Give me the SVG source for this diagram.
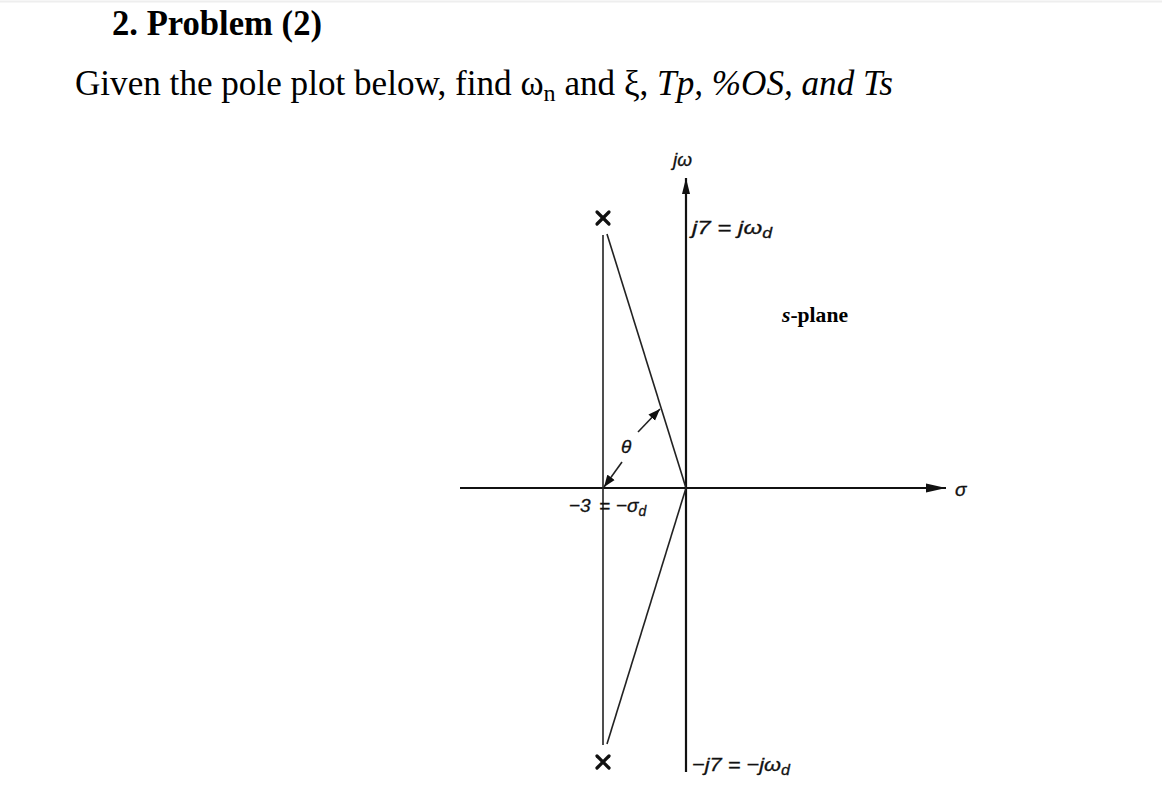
<svg xmlns="http://www.w3.org/2000/svg" width="1162" height="808" viewBox="0 0 1162 808">
<defs>
<marker id="ah" viewBox="0 0 12 10" refX="12" refY="5" markerWidth="12" markerHeight="10" markerUnits="userSpaceOnUse" orient="auto">
<path d="M0,0.5 L12,5 L0,9.5 Z" fill="#111"/>
</marker>
<marker id="axh" viewBox="0 0 20 10" refX="20" refY="5" markerWidth="20" markerHeight="10" markerUnits="userSpaceOnUse" orient="auto">
<path d="M0,0.5 L20,5 L0,9.5 Z" fill="#111"/>
</marker>
<marker id="ayh" viewBox="0 0 16 10" refX="16" refY="5" markerWidth="16" markerHeight="10" markerUnits="userSpaceOnUse" orient="auto">
<path d="M0,1 L16,5 L0,9 Z" fill="#111"/>
</marker>
</defs>
<style>
.serif{font-family:"Liberation Serif","Times New Roman",serif;fill:#000}
.lab{font-family:"Liberation Sans",Arial,sans-serif;font-style:italic;fill:#111;font-size:19px;stroke:#111;stroke-width:0.3}
.ln{stroke:#222;stroke-width:1.6;fill:none}
.ax{stroke:#111;stroke-width:2.2;fill:none}
.x{stroke:#111;stroke-width:3.2;stroke-linecap:round}
</style>
<rect width="1162" height="808" fill="#fff"/>
<line x1="0" y1="1.5" x2="1162" y2="1.5" stroke="#eee" stroke-width="2"/>
<g id="title">
<text class="serif" x="112" y="35" font-size="35" font-weight="bold" textLength="210" lengthAdjust="spacingAndGlyphs">2. Problem (2)</text>
<text class="serif" x="75" y="95" font-size="35" textLength="818" lengthAdjust="spacingAndGlyphs">Given the pole plot below, find ω<tspan font-size="24" dy="6">n</tspan><tspan dy="-6"> and ξ, </tspan><tspan font-style="italic">Tp, %OS, and Ts</tspan></text>
</g>
<g id="connectors">
<line id="real-axis" class="ax" x1="460" y1="488" x2="946" y2="488" marker-end="url(#axh)"/>
<line id="imag-axis" class="ax" x1="686" y1="772" x2="686" y2="178" marker-end="url(#ayh)"/>
<line class="ln" x1="603" y1="235" x2="603" y2="745"/>
<line class="ln" x1="607" y1="234" x2="686" y2="488"/>
<line class="ln" x1="686" y1="488" x2="607" y2="744"/>
<line class="ln" x1="622" y1="462" x2="604" y2="487" marker-end="url(#ah)"/>
<line class="ln" x1="638" y1="432" x2="660" y2="409" marker-end="url(#ah)"/>
</g>
<g id="pole-top">
<line class="x" x1="597" y1="212" x2="609" y2="224"/>
<line class="x" x1="609" y1="212" x2="597" y2="224"/>
</g>
<g id="pole-bottom">
<line class="x" x1="597" y1="756" x2="609" y2="768"/>
<line class="x" x1="609" y1="756" x2="597" y2="768"/>
</g>
<g id="labels">
<text class="lab" x="673" y="166">jω</text>
<text class="lab" x="692" y="234" textLength="80" lengthAdjust="spacingAndGlyphs">j7 = jω<tspan font-size="14" dy="4">d</tspan></text>
<text class="serif" x="782" y="322" font-size="21" font-weight="bold" textLength="66" lengthAdjust="spacingAndGlyphs"><tspan font-style="italic">s</tspan>-plane</text>
<text class="lab" x="955" y="496" font-size="22">σ</text>
<text class="lab" x="621" y="453" font-size="21">θ</text>
<text class="lab" x="569" y="512" font-style="normal" font-size="21">−3</text>
<text class="lab" x="599" y="512" font-style="normal" font-size="21">=</text>
<text class="lab" x="616" y="512" font-size="21">−σ<tspan font-size="14" dy="4">d</tspan></text>
<text class="lab" x="692" y="771" textLength="98" lengthAdjust="spacingAndGlyphs">−j7 = −jω<tspan font-size="14" dy="4">d</tspan></text>
</g>
</svg>
